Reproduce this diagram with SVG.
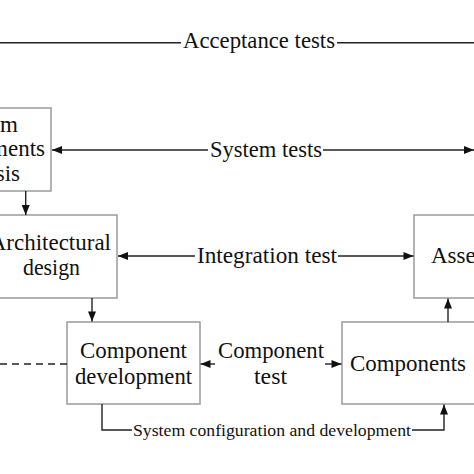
<svg xmlns="http://www.w3.org/2000/svg" width="474" height="474" viewBox="0 0 474 474">
<style>
.box{fill:#fff;stroke:#9a9a9a;stroke-width:1.5}
.ln{fill:none;stroke:#222;stroke-width:1.4}
.dash{fill:none;stroke:#222;stroke-width:1.4;stroke-dasharray:7,5}
text{font-family:"Liberation Serif","Times New Roman",serif;font-size:23px;fill:#111}
.sm{font-size:17.5px}
</style>
<defs>
<marker id="ah" viewBox="0 0 10 8" refX="10" refY="4" markerWidth="11" markerHeight="8" markerUnits="userSpaceOnUse" orient="auto">
<path d="M0,0 L10,4 L0,8 z" fill="#111"/>
</marker>
</defs>
<rect width="474" height="474" fill="#fff"/>
<g id="sysreq">
<rect class="box" x="-80" y="108" width="131" height="83"/>
<text x="18" y="132" text-anchor="end">System</text>
<text x="45" y="156" text-anchor="end">requirements</text>
<text x="20" y="181" text-anchor="end">analysis</text>
</g>
<g id="arch">
<rect class="box" x="-14" y="215" width="131" height="83"/>
<text x="111" y="250" text-anchor="end">Architectural</text>
<text x="23" y="275" textLength="57" lengthAdjust="spacingAndGlyphs">design</text>
</g>
<g id="compdev">
<rect class="box" x="67" y="322" width="133" height="82"/>
<text x="80" y="358" textLength="107" lengthAdjust="spacingAndGlyphs">Component</text>
<text x="75" y="384" textLength="117" lengthAdjust="spacingAndGlyphs">development</text>
</g>
<g id="components">
<rect class="box" x="342" y="322" width="150" height="82"/>
<text x="350" y="371" textLength="116" lengthAdjust="spacingAndGlyphs">Components</text>
</g>
<g id="assembly">
<rect class="box" x="414" y="215" width="80" height="83"/>
<text x="431" y="263">Assembly</text>
</g>
<g id="labels">
<text x="183" y="48" textLength="152" lengthAdjust="spacingAndGlyphs">Acceptance tests</text>
<text x="210" y="157" textLength="112" lengthAdjust="spacingAndGlyphs">System tests</text>
<text x="197" y="263" textLength="140" lengthAdjust="spacingAndGlyphs">Integration test</text>
<text x="218" y="358" textLength="106" lengthAdjust="spacingAndGlyphs">Component</text>
<text x="254" y="384" textLength="33" lengthAdjust="spacingAndGlyphs">test</text>
<text class="sm" x="133" y="436" textLength="278" lengthAdjust="spacingAndGlyphs">System configuration and development</text>
</g>
<g id="connectors">
<line class="ln" x1="0" y1="42.7" x2="181" y2="42.7"/>
<line class="ln" x1="337" y1="42.7" x2="474" y2="42.7"/>
<line class="ln" x1="208" y1="150" x2="52" y2="150" marker-end="url(#ah)"/>
<line class="ln" x1="323" y1="150" x2="474" y2="150" marker-end="url(#ah)"/>
<line class="ln" x1="25.7" y1="191" x2="25.7" y2="215" marker-end="url(#ah)"/>
<line class="ln" x1="195" y1="256" x2="118" y2="256" marker-end="url(#ah)"/>
<line class="ln" x1="338" y1="256" x2="413.5" y2="256" marker-end="url(#ah)"/>
<line class="ln" x1="92" y1="298" x2="92" y2="321.5" marker-end="url(#ah)"/>
<line class="dash" x1="0" y1="364" x2="67" y2="364"/>
<line class="ln" x1="215" y1="364" x2="200.5" y2="364" marker-end="url(#ah)"/>
<line class="ln" x1="325" y1="364" x2="341.5" y2="364" marker-end="url(#ah)"/>
<line class="ln" x1="448" y1="322" x2="448" y2="298.5" marker-end="url(#ah)"/>
<polyline class="ln" points="102,404 102,430 132,430"/>
<polyline class="ln" points="412,430 444,430 444,404.5" marker-end="url(#ah)"/>
</g>
</svg>
